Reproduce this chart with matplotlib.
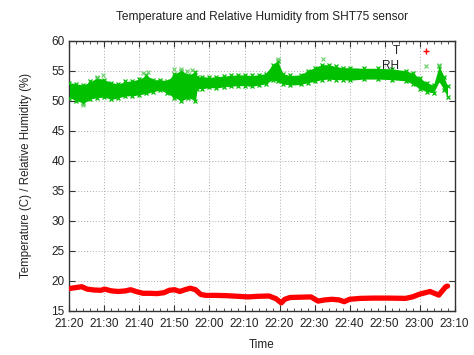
import matplotlib
matplotlib.use("Agg")
import matplotlib.pyplot as plt
from matplotlib.ticker import MultipleLocator

plt.rcParams['font.family'] = ['Liberation Sans', 'DejaVu Sans']

# time in minutes after 21:20
rh_t = [0, 2, 4, 6, 8, 10, 12, 14, 16, 18, 20, 22, 24, 26, 28, 30, 32, 34, 36,
        36.5, 38, 40, 42, 44, 46, 48, 50, 52, 54, 56, 58, 59.5, 61, 63, 66, 68,
        70, 72, 74, 76, 78, 80, 84, 88, 92, 96, 98, 100, 102, 104, 105.6, 107, 108]
rh_lo = [50.5, 50.0, 49.6, 50.3, 50.5, 50.6, 50.2, 50.5, 50.8, 50.8, 51.0, 51.2, 51.5, 51.8, 51.2, 50.5, 50.0, 50.5, 50.0,
         52.0, 52.0, 52.2, 52.1, 52.3, 52.4, 52.5, 52.5, 52.4, 52.6, 52.8, 53.5, 53.2, 52.8, 52.6, 52.7, 53.0,
         53.2, 53.5, 53.6, 53.5, 53.5, 53.4, 53.6, 53.6, 53.5, 53.3, 52.8, 52.0, 51.5, 51.3, 53.2, 51.8, 50.6]
rh_hi = [53.0, 52.8, 52.6, 53.2, 53.8, 53.5, 53.0, 52.8, 53.2, 53.3, 53.6, 54.2, 53.5, 53.5, 53.3, 54.5, 55.0, 54.3, 54.8,
         54.0, 54.0, 53.9, 54.0, 54.1, 54.2, 54.3, 54.3, 54.2, 54.3, 54.5, 56.0, 56.6, 54.5, 54.2, 54.3, 55.0,
         55.5, 56.0, 56.0, 55.7, 55.5, 55.5, 55.4, 55.4, 55.3, 55.0, 54.6, 53.8, 53.0, 52.6, 55.8, 54.0, 52.4]
rh_out_t = [4, 8, 9.5, 21, 22.5, 30, 32, 33.5, 35, 59.5, 72.5, 105.6]
rh_out_v = [49.3, 54.0, 54.2, 54.6, 54.8, 55.2, 55.3, 55.0, 55.1, 56.9, 57.0, 56.0]

t_t = [0, 3.5, 5, 7, 9, 10, 12, 14, 16, 17.5, 19, 21, 23, 25, 27, 28.5, 30, 31.5, 33, 34.5, 36,
       37.5, 39, 42, 45, 48, 51, 54, 57, 59, 60.5, 61.5, 63, 66, 69, 71, 73, 75, 77, 78.5, 80,
       83, 87, 91, 96, 98, 100, 103, 105.5, 107.5, 108]
t_v = [18.7, 19.0, 18.6, 18.45, 18.4, 18.6, 18.3, 18.2, 18.3, 18.5, 18.2, 17.9, 17.9, 17.85, 18.0, 18.4, 18.5, 18.2, 18.5, 18.75, 18.5,
       17.7, 17.55, 17.55, 17.5, 17.4, 17.3, 17.4, 17.45, 17.0, 16.3, 16.9, 17.2, 17.25, 17.3, 16.6, 16.8, 16.9, 16.8, 16.5, 16.9,
       17.05, 17.1, 17.1, 17.05, 17.3, 17.75, 18.2, 17.6, 19.0, 19.1]

xtick_labels = ["21:20", "21:30", "21:40", "21:50", "22:00", "22:10", "22:20",
                "22:30", "22:40", "22:50", "23:00", "23:10"]
yticks = [15, 20, 25, 30, 35, 40, 45, 50, 55, 60]

green = '#00c000'
red = '#ff0000'
txt = '#222222'

fig = plt.figure(figsize=(4.74, 3.55), dpi=100)
ax = fig.add_axes([0.1466, 0.1248, 0.8123, 0.7606])

# RH band
ax.fill_between(rh_t, rh_lo, rh_hi, color=green, lw=0, zorder=3)
ax.plot(rh_t, rh_lo, ls='none', marker='x', ms=3, mew=0.9, color=green, zorder=3)
ax.plot(rh_t, rh_hi, ls='none', marker='x', ms=3, mew=0.9, color=green, zorder=3)
ax.plot(rh_out_t, rh_out_v, ls='none', marker='x', ms=3.5, mew=0.8, color='#66cc66', zorder=3)

# Temperature band
ax.plot(t_t, t_v, color=red, lw=3.8, solid_joinstyle='round', solid_capstyle='round', zorder=3)

ax.set_xlim(0, 110)
ax.set_ylim(15, 60)
ax.set_xticks([i * 10 for i in range(len(xtick_labels))])
ax.set_xticklabels(xtick_labels)
ax.xaxis.set_minor_locator(MultipleLocator(2))
ax.set_yticks(yticks)
ax.tick_params(axis='both', which='both', direction='in', top=True, right=True,
               labelsize=8.5, labelcolor=txt, color='#333333')
ax.tick_params(which='major', length=4)
ax.tick_params(which='minor', length=2.5)
ax.tick_params(axis='x', which='major', pad=5)
ax.grid(True, which='major', ls=(0, (1, 2)), color='#aaaaaa', lw=0.7)
for s in ax.spines.values():
    s.set_color('#333333')
    s.set_linewidth(1.0)

ax.set_xlabel('Time', fontsize=8.5, color=txt, labelpad=7)
ax.set_ylabel('Temperature (C) / Relative Humidity (%)', fontsize=8.3, color=txt, labelpad=14)
ax.set_title('Temperature and Relative Humidity from SHT75 sensor', fontsize=8.6, color=txt, pad=15)

# legend (gnuplot style)
ax.text(0.857, 0.963, 'T', transform=ax.transAxes, ha='right', va='center', fontsize=8.5, color=txt)
ax.plot([0.925], [0.963], transform=ax.transAxes, marker='+', ms=4, mew=1, color=red, clip_on=False)
ax.text(0.857, 0.908, 'RH', transform=ax.transAxes, ha='right', va='center', fontsize=8.5, color=txt)
ax.plot([0.925], [0.908], transform=ax.transAxes, marker='x', ms=3.5, mew=0.8, color='#66cc66', clip_on=False)

fig.savefig('out.png', dpi=100)
